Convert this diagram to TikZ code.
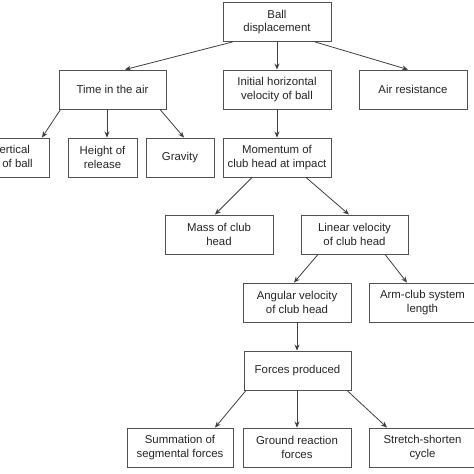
\documentclass[tikz,border=0pt]{standalone}
\usepackage{fontspec}
\setmainfont{Liberation Sans}
\usetikzlibrary{arrows.meta}
\begin{document}
\begin{tikzpicture}[x=1pt,y=-1pt,
  box/.style={draw=black!68,line width=0.9pt,fill=white,text=black!85,
    align=center,minimum height=39pt,inner sep=1pt,
    font=\fontsize{11.4}{13.5}\selectfont},
  w108/.style={box,minimum width=108pt},
  w69/.style={box,minimum width=69pt},
  conn/.style={draw=black!75,line width=0.8pt,-{Stealth[length=6pt,width=5pt]}}]
\useasboundingbox (0,0) rectangle (474,474);
\clip (0,0) rectangle (474,474);
\fill[white] (0,0) rectangle (474,474);
% nodes
\node[w108] (ball) at (277,22) {Ball\\displacement};
\node[w108,minimum width=107pt] (time) at (112.5,89.5) {Time in the air};
\node[w108] (init) at (277,89.5) {Initial horizontal\\velocity of ball};
\node[w108] (air) at (413,89.5) {Air resistance};
\node[box,minimum width=104pt] (vert) at (-3,157.5) {Initial vertical\\velocity of ball};
\node[w69] (height) at (102.5,157.5) {Height of\\release};
\node[w69,minimum width=68pt] (grav) at (180,157.5) {Gravity};
\node[w108] (mom) at (277,157.5) {Momentum of\\club head at impact};
\node[w108] (mass) at (219,234.5) {Mass of club\\head};
\node[w108,minimum width=107pt] (lin) at (354.5,234.5) {Linear velocity\\of club head};
\node[w108] (ang) at (297,302.5) {Angular velocity\\of club head};
\node[w108,minimum width=107pt] (arm) at (422.5,302.5) {Arm-club system\\length};
\node[w108,minimum width=107pt] (forces) at (297.5,370.5) {Forces produced};
\node[w108,minimum width=106pt] (summ) at (180,447.5) {Summation of\\segmental forces};
\node[w108] (ground) at (297,447.5) {Ground reaction\\forces};
\node[w108,minimum width=107pt] (stretch) at (422.5,447.5) {Stretch-shorten\\cycle};
% connectors
\draw[conn] ([xshift=10pt]ball.south west) -- ([xshift=12.5pt]time.north);
\draw[conn] (ball.south) -- (init.north);
\draw[conn] ([xshift=38pt]ball.south) -- ([xshift=-5pt]air.north);
\draw[conn] ([xshift=2pt]time.south west) -- ([xshift=45pt]vert.north);
\draw[conn] ([xshift=-5.5pt]time.south) -- ([xshift=4.5pt]height.north);
\draw[conn] ([xshift=47.5pt]time.south) -- ([xshift=4pt]grav.north);
\draw[conn] (init.south) -- (mom.north);
\draw[conn] ([xshift=-25pt]mom.south) -- ([xshift=-4pt]mass.north);
\draw[conn] ([xshift=29pt]mom.south) -- ([xshift=-5.5pt]lin.north);
\draw[conn] ([xshift=-36.5pt]lin.south) -- ([xshift=-3pt]ang.north);
\draw[conn] ([xshift=30.5pt]lin.south) -- ([xshift=-15.5pt]arm.north);
\draw[conn] (ang.south) -- ([xshift=-0.5pt]forces.north);
\draw[conn] ([xshift=-51.5pt]forces.south) -- ([xshift=35pt]summ.north);
\draw[conn] ([xshift=-0.5pt]forces.south) -- (ground.north);
\draw[conn] ([xshift=49.5pt]forces.south) -- ([xshift=-35.5pt]stretch.north);
\end{tikzpicture}
\end{document}
